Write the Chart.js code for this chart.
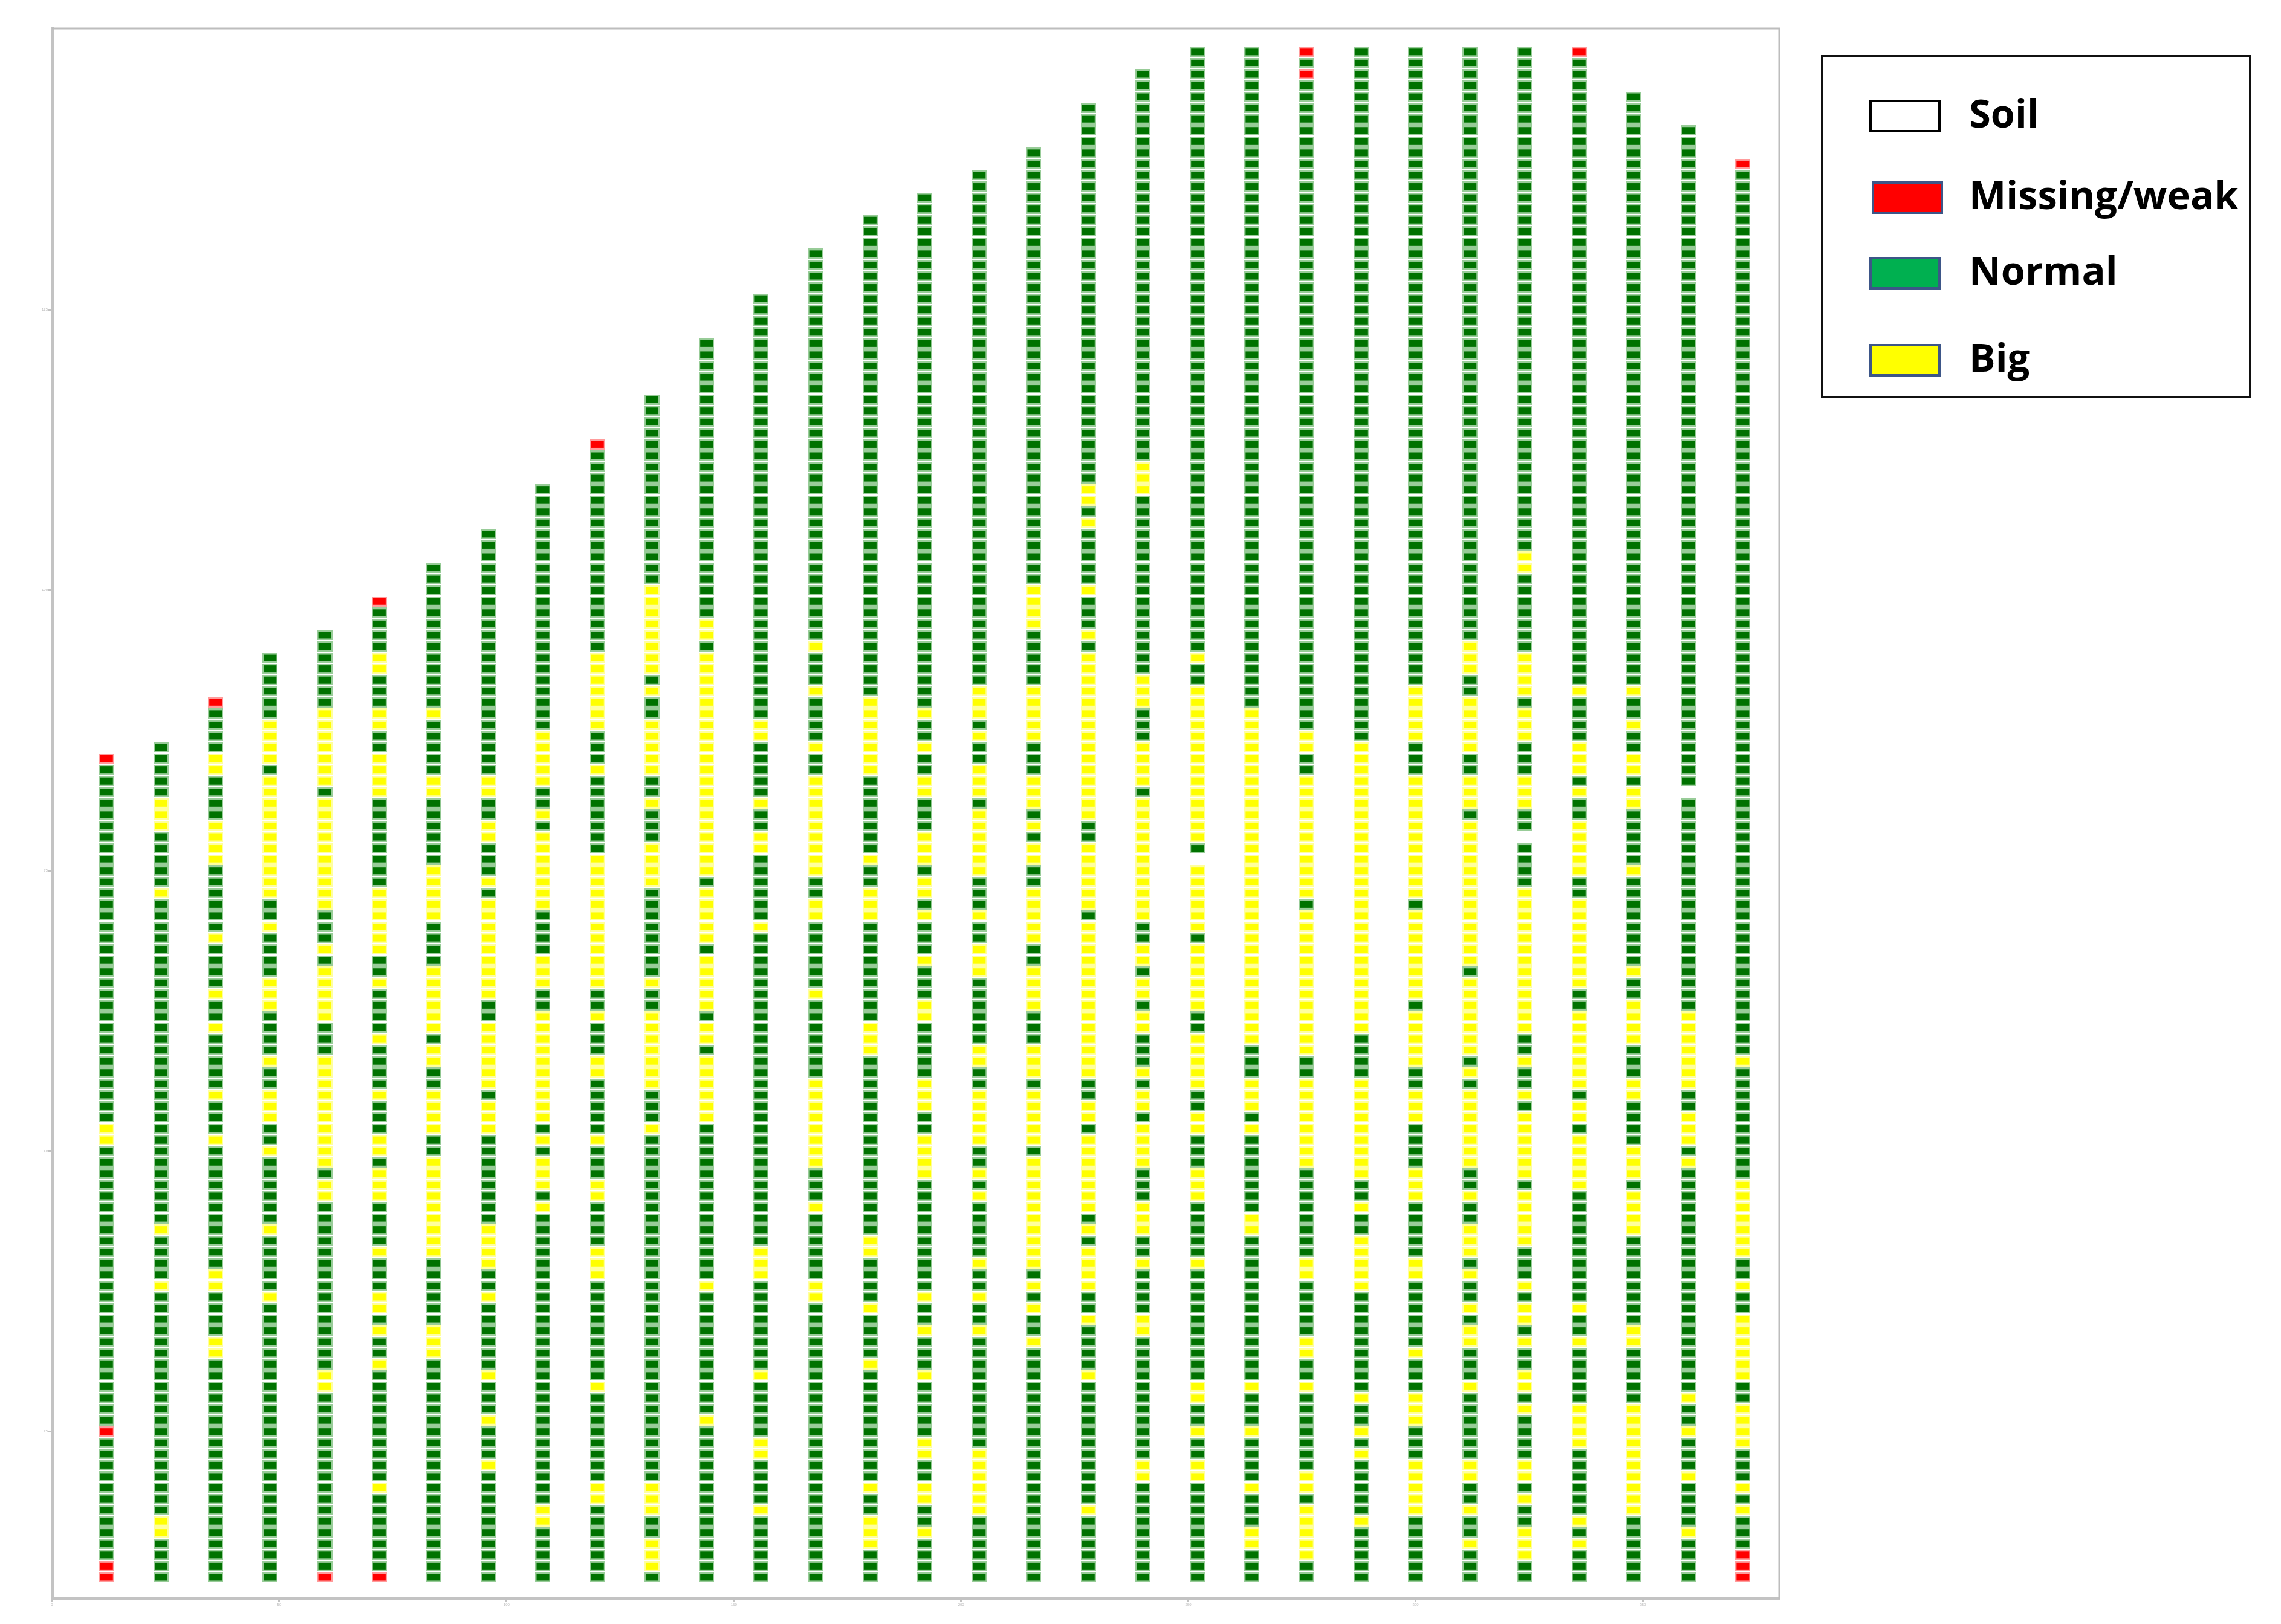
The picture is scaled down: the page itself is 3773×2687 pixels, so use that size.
<!DOCTYPE html>
<html>
<head>
<meta charset="utf-8">
<script src="https://cdn.jsdelivr.net/npm/chart.js@4.4.1/dist/chart.umd.min.js"></script>
<style>
  html, body { margin: 0; padding: 0; background: #fff; }
  #wrap { position: relative; width: 3773px; height: 2687px; }
  #legend {
    position: absolute; left: 3012px; top: 91px; width: 712px; height: 568px;
    border: 4px solid #111; box-sizing: border-box; background: #fff;
    font-family: 'Open Sans', 'Liberation Sans', sans-serif; font-weight: 700; color: #000;
  }
  .item { position: absolute; left: 0; width: 100%; height: 54px; }
  .swatch { position: absolute; top: 0; width: 118px; height: 54px; box-sizing: border-box; border: 4px solid; }
  .label { position: absolute; left: 241px; top: -12px; font-size: 65px; line-height: 66px; white-space: nowrap; }
</style>
</head>
<body>
<div id="wrap">
  <canvas id="chart" width="3773" height="2687"></canvas>
  <div id="legend"></div>
</div>
<script>
// Plant classes, as in the legend
const categories = ['Soil', 'Missing/weak', 'Normal', 'Big'];
const categoryCodes = ['S', 'R', 'G', 'Y'];

// Position of each field row along the x axis
const rowPositions = [12, 24, 36, 48, 60, 72, 84, 96, 108, 120, 132, 144, 156, 168, 180, 192,
                      204, 216, 228, 240, 252, 264, 276, 288, 300, 312, 324, 336, 348, 360, 372];

// Tick labels
const xTickValues = [0, 50, 100, 150, 200, 250, 300, 350];
const yTickValues = [25, 50, 75, 100, 125];

// y value of the first (lowest) plant of every row
const firstPlant = 12;

// Each row read bottom to top as runs: class code + number of plants
const rowPlants = [
  'R2 G11 R1 G25 Y2 G32 R1',
  'G4 Y2 G20 Y1 G4 Y1 G29 Y1 G5 Y3 G5',
  'G20 Y2 G4 Y2 G11 Y1 G3 Y1 G5 Y1 G2 Y1 G4 Y1 G6 Y4 G4 Y2 G4 R1',
  'G25 Y1 G5 Y1 G6 Y1 G2 Y3 G2 Y1 G4 Y3 G4 Y1 G2 Y11 G1 Y4 G6',
  'R1 G16 Y2 G15 Y2 G1 Y10 G3 Y5 G1 Y1 G3 Y10 G1 Y7 G7',
  'R1 G7 Y1 G10 Y1 G2 Y1 G1 Y2 G3 Y1 G4 Y3 G1 Y2 G3 Y1 G4 Y1 G4 Y1 G2 Y6 G8 Y4 G2 Y2 G3 Y2 G4 R1',
  'G20 Y3 G6 Y9 G2 Y4 G2 Y2 G1 Y6 G4 Y5 G6 Y2 G5 Y1 G13',
  'G10 Y1 G3 Y1 G3 Y1 G6 Y1 G2 Y4 G8 Y3 G1 Y6 G2 Y9 G1 Y1 G3 Y2 G2 Y2 G22',
  'G5 Y2 G26 Y1 G1 Y3 G1 Y1 G1 Y10 G2 Y3 G4 Y7 G1 Y1 G2 Y5 G22',
  'G7 Y2 G8 Y1 G9 Y3 G4 Y2 G3 Y1 G5 Y2 G3 Y1 G2 Y12 G7 Y1 G3 Y7 G18 R1',
  'G1 Y3 G2 Y3 G31 Y1 G3 Y7 G2 Y1 G8 Y4 G3 Y1 G2 Y5 G2 Y1 G1 Y8 G17',
  'G14 Y1 G11 Y1 G14 Y6 G1 Y2 G1 Y5 G1 Y5 G1 Y20 G1 Y2 G25',
  'G6 Y1 G4 Y2 G5 Y1 G8 Y3 G28 Y1 G6 Y2 G2 Y1 G5 Y2 G38',
  'G25 Y2 G6 Y1 G3 Y8 G7 Y1 G6 Y2 G2 Y9 G2 Y1 G4 Y1 G3 Y1 G35',
  'G3 Y3 G2 Y1 G10 Y1 G4 Y1 G4 Y2 G16 Y3 G9 Y3 G2 Y1 G7 Y7 G43',
  'G4 Y1 G2 Y2 G2 Y2 G5 Y1 G3 Y1 G2 Y1 G10 Y4 G2 Y3 G5 Y2 G3 Y1 G3 Y1 G1 Y2 G1 Y3 G3 Y2 G2 Y1 G2 Y1 G46',
  'G6 Y6 G10 Y1 G2 Y1 G2 Y1 G5 Y1 G1 Y1 G2 Y5 G2 Y2 G6 Y3 G2 Y1 G3 Y6 G1 Y3 G2 Y1 G1 Y3 G46',
  'G21 Y1 G2 Y1 G1 Y1 G1 Y10 G1 Y5 G1 Y3 G3 Y4 G2 Y5 G2 Y2 G1 Y1 G1 Y3 G3 Y5 G5 Y4 G39',
  'G6 Y1 G11 Y1 G4 Y1 G2 Y4 G1 Y1 G1 Y7 G1 Y2 G2 Y14 G1 Y6 G2 Y15 G1 Y1 G3 Y1 G5 Y1 G1 Y2 G34',
  'G9 Y2 G11 Y2 G4 Y1 G2 Y3 G3 Y4 G1 Y2 G1 Y1 G3 Y2 G1 Y2 G1 Y2 G2 Y11 G1 Y4 G3 Y3 G16 Y3 G35',
  'G9 Y2 G2 Y1 G2 Y2 G10 Y1 G5 Y3 G3 Y2 G2 Y5 G2 Y6 G1 Y6 S1 G1 Y14 G2 Y1 G54',
  'G3 Y2 G3 Y1 G4 Y1 G3 Y1 G13 Y2 G7 Y1 G1 Y3 G3 Y30 G59',
  'G2 Y5 G1 Y2 G7 Y1 G2 Y2 G5 Y2 G8 Y8 G2 Y13 G1 Y11 G2 Y2 G58 R1 G1 R1',
  'G5 Y1 G5 Y1 G1 Y1 G2 Y1 G9 Y5 G2 Y1 G2 Y9 G4 Y26 G62',
  'G6 Y5 G3 Y3 G3 Y1 G6 Y2 G5 Y3 G4 Y3 G2 Y5 G1 Y8 G1 Y11 G3 Y5 G57',
  'G3 Y1 G2 Y1 G2 Y2 G6 Y1 G3 Y2 G1 Y1 G2 Y1 G1 Y3 G2 Y1 G2 Y7 G1 Y1 G1 Y7 G1 Y13 G1 Y3 G2 Y5 G2 Y3 G53',
  'G2 Y3 G2 Y1 G1 Y2 G4 Y1 G1 Y2 G2 Y1 G1 Y2 G1 Y1 G3 Y5 G1 Y6 G1 Y1 G2 Y1 G2 Y13 G4 S1 G2 Y3 G3 Y3 G1 Y4 G7 Y2 G45',
  'G3 Y1 G1 Y1 G6 Y4 G5 Y1 G2 Y1 G10 Y5 G1 Y2 G1 Y7 G2 Y8 G2 Y5 G2 Y1 G1 Y3 G4 Y1 G56 R1',
  'G6 Y10 G5 Y2 G8 Y4 G1 Y3 G4 Y2 G3 Y4 G2 Y1 G8 Y1 G5 Y2 G1 Y2 G2 Y1 G2 Y1 G53',
  'G4 Y1 G4 Y1 G3 Y1 G2 Y1 G20 Y1 G1 Y3 G2 Y7 G19 S1 G59',
  'R3 G3 Y1 G1 Y1 G3 Y4 G2 Y6 G2 Y1 G2 Y7 G10 Y1 G79 R1'
];

// Styles
const cellCore = { S: '#ffffff', R: '#ff0000', G: '#007200', Y: '#ffff00' };
const cellRim  = { S: '#ffffff', R: '#ff9c9c', G: '#98cc98', Y: '#ffff9e' };
const legendFill   = { S: '#ffffff', R: '#ff0000', G: '#00b050', Y: '#ffff00' };
const legendBorder = { S: '#000000', R: '#3d5688', G: '#3d5688', Y: '#3d5688' };
const axisGrey = '#c3c3c3';

function makeCell(code) {
    const c = document.createElement('canvas');
    c.width = 25;
    c.height = 17;
    const g = c.getContext('2d');
    g.fillStyle = cellRim[code];
    g.fillRect(0, 0, 25, 17);
    g.fillStyle = cellCore[code];
    g.fillRect(2, 3, 21, 11);
    return c;
}

// Turn the run strings into one point list per class
const points = { S: [], R: [], G: [], Y: [] };
rowPlants.forEach((runs, i) => {
    let k = 0;
    runs.split(' ').forEach(tok => {
        const code = tok[0];
        const n = parseInt(tok.slice(1), 10);
        for (let j = 0; j < n; j++) {
            points[code].push({ x: rowPositions[i], y: firstPlant + k });
            k++;
        }
    });
});

const datasets = categoryCodes.map((code, i) => ({
    label: categories[i],
    data: points[code],
    pointStyle: makeCell(code),
    pointRadius: 5,
    pointHoverRadius: 5
}));

// Light frame on top and right of the plot area
const framePlugin = {
    id: 'frame',
    afterDraw(chart) {
        const { ctx, chartArea: a } = chart;
        ctx.save();
        ctx.strokeStyle = '#bdbdbd';
        ctx.lineWidth = 3;
        ctx.beginPath();
        ctx.moveTo(a.left, a.top);
        ctx.lineTo(a.right, a.top);
        ctx.lineTo(a.right, a.bottom);
        ctx.stroke();
        ctx.restore();
    }
};

const tickFont = { family: 'Liberation Sans', size: 6 };

new Chart(document.getElementById('chart').getContext('2d'), {
    type: 'scatter',
    data: { datasets: datasets },
    options: {
        responsive: false,
        animation: false,
        devicePixelRatio: 1,
        events: [],
        layout: { padding: { left: 0, top: 47, right: 830, bottom: 0 } },
        plugins: {
            legend: { display: false },
            tooltip: { enabled: false }
        },
        scales: {
            x: {
                type: 'linear',
                min: 0,
                max: 380,
                afterBuildTicks: axis => { axis.ticks = xTickValues.map(v => ({ value: v })); },
                afterFit: axis => { axis.height = 42; },
                grid: { drawOnChartArea: false, drawTicks: true, tickLength: 6, color: axisGrey, lineWidth: 3 },
                border: { display: true, color: axisGrey, width: 5 },
                ticks: { font: tickFont, color: '#bdbdbd', padding: 1, maxRotation: 0 }
            },
            y: {
                type: 'linear',
                min: 10.11,
                max: 150.09,
                afterBuildTicks: axis => { axis.ticks = yTickValues.map(v => ({ value: v })); },
                afterFit: axis => { axis.width = 86; },
                grid: { drawOnChartArea: false, drawTicks: true, tickLength: 6, color: axisGrey, lineWidth: 3 },
                border: { display: true, color: axisGrey, width: 5 },
                ticks: { font: tickFont, color: '#bdbdbd', padding: 1 }
            }
        }
    },
    plugins: [framePlugin]
});

// Legend box
const legendTops = { S: 70, R: 205, G: 330, Y: 474 };
const legendLefts = { S: 76, R: 80, G: 76, Y: 76 };
const legend = document.getElementById('legend');
categoryCodes.forEach((code, i) => {
    const item = document.createElement('div');
    item.className = 'item';
    item.style.top = legendTops[code] + 'px';
    const sw = document.createElement('div');
    sw.className = 'swatch';
    sw.style.left = legendLefts[code] + 'px';
    sw.style.background = legendFill[code];
    sw.style.borderColor = legendBorder[code];
    const lb = document.createElement('span');
    lb.className = 'label';
    lb.textContent = categories[i];
    item.appendChild(sw);
    item.appendChild(lb);
    legend.appendChild(item);
});
</script>
</body>
</html>
